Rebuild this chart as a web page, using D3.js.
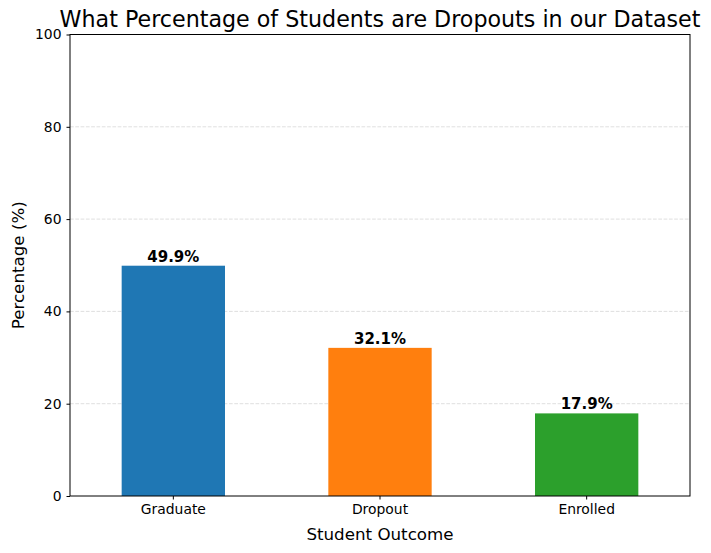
<!DOCTYPE html>
<html><head><meta charset="utf-8">
<script src="https://cdn.jsdelivr.net/npm/d3@7"></script>
<style>body{margin:0;background:#fff}svg{display:block;font-family:"DejaVu Sans",sans-serif}</style>
</head><body><svg id="c" width="711" height="553"></svg>
<script>
const categories = ["Graduate","Dropout","Enrolled"];
const values = [49.9, 32.1, 17.9];
const colors = ["#1f77b4","#ff7f0e","#2ca02c"];
const yTicks = [0,20,40,60,80,100];

const svg = d3.select("#c");
const m = {l:70, r:690, t:34.5, b:496};
const x = d3.scaleBand().domain(categories).range([m.l, m.r]).paddingInner(0.5).paddingOuter(0.25);
const y = d3.scaleLinear().domain([0,100]).range([m.b, m.t]);

// grid
svg.append("g").selectAll("line").data(yTicks.filter(d=>d>0&&d<100)).join("line")
  .attr("x1",m.l).attr("x2",m.r).attr("y1",d=>y(d)).attr("y2",d=>y(d))
  .attr("stroke","#b0b0b0").attr("stroke-opacity",0.5).attr("stroke-width",0.8).attr("stroke-dasharray","3.7,1.6");

// bars
svg.append("g").selectAll("rect").data(categories).join("rect")
  .attr("x",d=>x(d)).attr("width",x.bandwidth())
  .attr("y",(d,i)=>y(values[i])).attr("height",(d,i)=>m.b-y(values[i]))
  .attr("fill",(d,i)=>colors[i]);

// labels
svg.append("g").selectAll("text").data(categories).join("text")
  .attr("x",d=>x(d)+x.bandwidth()/2).attr("y",(d,i)=>y(values[i])-4)
  .attr("text-anchor","middle").attr("font-size","15px").attr("font-weight","bold")
  .text((d,i)=>values[i].toFixed(1)+"%");

// axes
const ya = svg.append("g").attr("transform",`translate(${m.l},0)`)
  .call(d3.axisLeft(y).tickValues(yTicks).tickSize(3.5).tickPadding(5));
const xa = svg.append("g").attr("transform",`translate(0,${m.b})`)
  .call(d3.axisBottom(x).tickSize(3.5).tickPadding(5));
[ya,xa].forEach(a=>{a.selectAll("text").attr("font-size","13.9px").attr("fill","#000").attr("font-family","DejaVu Sans");
  a.select(".domain").remove(); a.selectAll("line").attr("stroke","#000");});

// frame
svg.append("rect").attr("x",m.l).attr("y",m.t).attr("width",m.r-m.l).attr("height",m.b-m.t)
  .attr("fill","none").attr("stroke","#000").attr("stroke-width",1);

svg.append("text").attr("x",(m.l+m.r)/2).attr("y",27).attr("text-anchor","middle")
  .attr("font-size","22.2px").text("What Percentage of Students are Dropouts in our Dataset");
svg.append("text").attr("x",(m.l+m.r)/2).attr("y",540).attr("text-anchor","middle")
  .attr("font-size","16.7px").text("Student Outcome");
svg.append("text").attr("transform",`translate(24,${(m.t+m.b)/2}) rotate(-90)`).attr("text-anchor","middle")
  .attr("font-size","16.7px").text("Percentage (%)");
</script></body></html>
